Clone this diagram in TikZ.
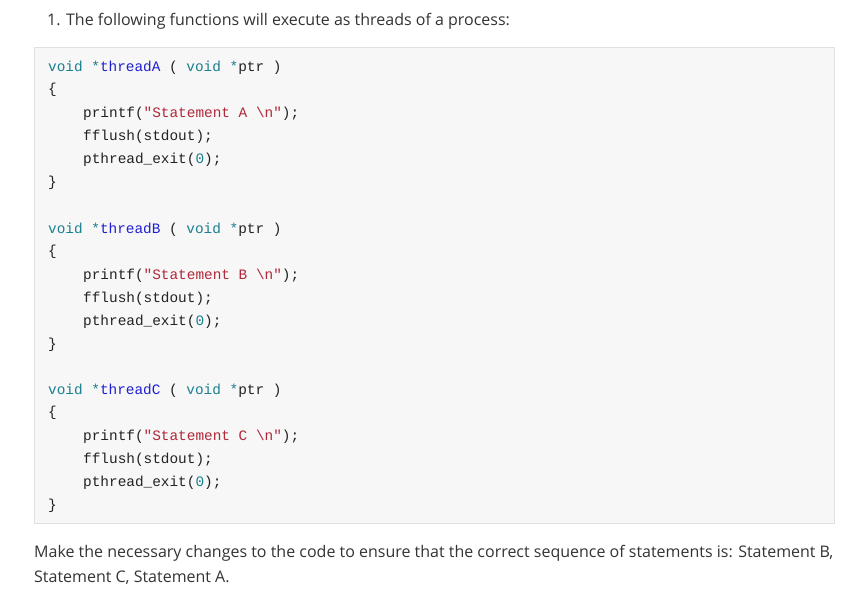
\documentclass[tikz,border=0pt]{standalone}
\usepackage{fontspec}
\setmainfont{Open Sans}
\newfontfamily\codefont{Liberation Mono}
\usepackage{xcolor}
\definecolor{kw}{HTML}{1A7F8E}
\definecolor{fn}{HTML}{1F1FD0}
\definecolor{st}{HTML}{B0283A}
\definecolor{tx}{HTML}{222222}
\definecolor{bodytx}{HTML}{333333}
\newcommand{\K}[1]{\textcolor{kw}{#1}}
\newcommand{\F}[1]{\textcolor{fn}{#1}}
\newcommand{\Sg}[1]{\textcolor{st}{#1}}
\begin{document}
\begin{tikzpicture}[x=1pt,y=-1pt,
  code/.style={anchor=base west,inner sep=0pt,font=\codefont\fontsize{14.4}{18}\selectfont,text=tx},
  body/.style={anchor=base west,inner sep=0pt,font=\fontsize{16}{20}\selectfont,text=bodytx}]
\useasboundingbox (0,0) rectangle (855,590);
\node[draw=black!12,fill=black!3,line width=0.8pt,minimum width=800pt,minimum height=476pt,anchor=north west,inner sep=0pt] (box) at (34,47) {};
\node[body] (title) at (47,25) {1. The following functions will execute as threads of a process:};
\foreach \L/\y in {A/0,B/162,C/323}{
  \node[code] (h\L) at (48,71+\y) {\K{void} \K{*}\F{thread\L} ( \K{void} \K{*}ptr )};
  \node[code] (o\L) at (48,93+\y) {\{};
  \node[code] (p\L) at (83,117+\y) {printf(\Sg{"Statement \L{} \textbackslash n"});};
  \node[code] (f\L) at (83,140+\y) {fflush(stdout);};
  \node[code] (e\L) at (83,163+\y) {pthread\_exit(\K{0});};
  \node[code] (c\L) at (48,186+\y) {\}};
}
\node[body] (q1) at (34,557) {Make the necessary changes to the code to ensure that the correct sequence of statements is: Statement B,};
\node[body] (q2) at (34,582) {Statement C, Statement A.};
\end{tikzpicture}
\end{document}
